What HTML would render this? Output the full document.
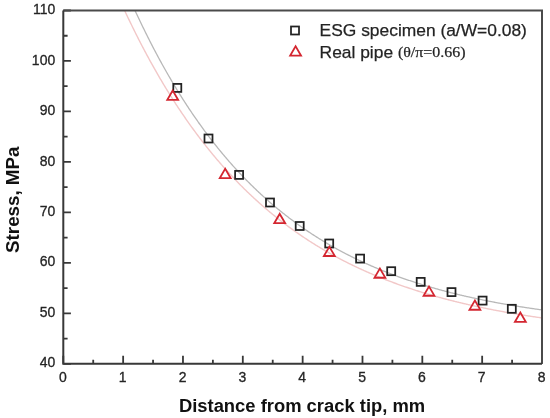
<!DOCTYPE html>
<html><head><meta charset="utf-8"><style>
html,body{margin:0;padding:0;background:#fff;}
svg{display:block;}
text{font-family:"Liberation Sans",Arial,sans-serif;}
</style></head><body>
<svg width="550" height="418" viewBox="0 0 550 418" fill="#222">
<defs><clipPath id="c"><rect x="63.3" y="10.5" width="478.7" height="353.3"/></clipPath></defs>
<g clip-path="url(#c)" fill="none" stroke-width="1.1">
<path d="M117.15,-30.82 L117.86,-29.08 L118.57,-27.36 L119.28,-25.64 L119.99,-23.93 L120.70,-22.22 L121.41,-20.53 L122.12,-18.84 L122.83,-17.17 L123.54,-15.50 L124.25,-13.84 L124.96,-12.18 L125.66,-10.54 L126.37,-8.90 L127.08,-7.27 L127.79,-5.65 L128.50,-4.03 L129.21,-2.43 L129.92,-0.83 L130.63,0.76 L131.34,2.35 L132.05,3.92 L132.76,5.49 L133.47,7.05 L134.18,8.61 L134.89,10.15 L135.59,11.69 L136.30,13.22 L137.01,14.75 L137.72,16.26 L138.43,17.77 L139.14,19.27 L139.85,20.77 L140.56,22.25 L141.27,23.73 L141.98,25.21 L142.69,26.67 L143.40,28.13 L144.11,29.58 L144.81,31.03 L145.52,32.47 L146.23,33.90 L146.94,35.32 L147.65,36.74 L148.36,38.15 L149.07,39.55 L149.78,40.95 L150.49,42.34 L151.20,43.72 L151.91,45.10 L152.62,46.47 L153.33,47.84 L154.04,49.19 L154.74,50.54 L155.45,51.89 L156.16,53.22 L156.87,54.56 L157.58,55.88 L158.29,57.20 L159.00,58.51 L159.71,59.82 L160.42,61.12 L161.13,62.41 L161.84,63.70 L162.55,64.98 L163.26,66.25 L163.96,67.52 L164.67,68.78 L165.38,70.04 L166.09,71.29 L166.80,72.53 L167.51,73.77 L168.22,75.01 L168.93,76.23 L169.64,77.45 L170.35,78.67 L171.06,79.88 L171.77,81.08 L172.48,82.28 L173.19,83.47 L173.89,84.65 L174.60,85.83 L175.31,87.01 L176.02,88.18 L176.73,89.34 L177.44,90.50 L178.15,91.65 L178.86,92.80 L179.57,93.94 L180.28,95.07 L180.99,96.20 L181.70,97.33 L182.41,98.45 L183.11,99.56 L183.82,100.67 L184.53,101.77 L185.24,102.87 L185.95,103.96 L186.66,105.05 L187.37,106.13 L188.08,107.21 L188.79,108.28 L189.50,109.34 L190.21,110.41 L190.92,111.46 L191.63,112.51 L192.34,113.56 L193.04,114.60 L193.75,115.64 L194.46,116.67 L195.17,117.69 L195.88,118.71 L196.59,119.73 L197.30,120.74 L198.01,121.75 L198.72,122.75 L199.43,123.75 L200.14,124.74 L200.85,125.73 L201.56,126.71 L202.26,127.69 L202.97,128.66 L203.68,129.63 L204.39,130.59 L205.10,131.55 L205.81,132.51 L206.52,133.45 L207.23,134.40 L207.94,135.34 L208.65,136.28 L209.36,137.21 L210.07,138.14 L210.78,139.06 L211.49,139.98 L212.19,140.89 L212.90,141.80 L213.61,142.71 L214.32,143.61 L215.03,144.50 L215.74,145.40 L216.45,146.28 L217.16,147.17 L217.87,148.05 L218.58,148.92 L219.29,149.79 L220.00,150.66 L220.71,151.52 L221.41,152.38 L222.12,153.23 L222.83,154.09 L223.54,154.93 L224.25,155.77 L224.96,156.61 L225.67,157.45 L226.38,158.28 L227.09,159.10 L227.80,159.92 L228.51,160.74 L229.22,161.56 L229.93,162.37 L230.64,163.17 L231.34,163.97 L232.05,164.77 L232.76,165.57 L233.47,166.36 L234.18,167.15 L234.89,167.93 L235.60,168.71 L236.31,169.48 L237.02,170.26 L237.73,171.02 L238.44,171.79 L239.15,172.55 L239.86,173.31 L240.56,174.06 L241.27,174.81 L241.98,175.56 L242.69,176.30 L243.40,177.04 L244.11,177.78 L244.82,178.51 L245.53,179.24 L246.24,179.96 L246.95,180.68 L247.66,181.40 L248.37,182.12 L249.08,182.83 L249.79,183.53 L250.49,184.24 L251.20,184.94 L251.91,185.64 L252.62,186.33 L253.33,187.02 L254.04,187.71 L254.75,188.40 L255.46,189.08 L256.17,189.75 L256.88,190.43 L257.59,191.10 L258.30,191.77 L259.01,192.43 L259.71,193.10 L260.42,193.75 L261.13,194.41 L261.84,195.06 L262.55,195.71 L263.26,196.36 L263.97,197.00 L264.68,197.64 L265.39,198.28 L266.10,198.91 L266.81,199.54 L267.52,200.17 L268.23,200.79 L268.94,201.41 L269.64,202.03 L270.35,202.65 L271.06,203.26 L271.77,203.87 L272.48,204.48 L273.19,205.08 L273.90,205.68 L274.61,206.28 L275.32,206.87 L276.03,207.47 L276.74,208.05 L277.45,208.64 L278.16,209.23 L278.86,209.81 L279.57,210.38 L280.28,210.96 L280.99,211.53 L281.70,212.10 L282.41,212.67 L283.12,213.23 L283.83,213.79 L284.54,214.35 L285.25,214.91 L285.96,215.46 L286.67,216.01 L287.38,216.56 L288.09,217.11 L288.79,217.65 L289.50,218.19 L290.21,218.73 L290.92,219.26 L291.63,219.80 L292.34,220.33 L293.05,220.85 L293.76,221.38 L294.47,221.90 L295.18,222.42 L295.89,222.94 L296.60,223.45 L297.31,223.97 L298.01,224.48 L298.72,224.98 L299.43,225.49 L300.14,225.99 L300.85,226.49 L301.56,226.99 L302.27,227.49 L302.98,227.98 L303.69,228.47 L304.40,228.96 L305.11,229.44 L305.82,229.93 L306.53,230.41 L307.24,230.89 L307.94,231.37 L308.65,231.84 L309.36,232.31 L310.07,232.78 L310.78,233.25 L311.49,233.71 L312.20,234.18 L312.91,234.64 L313.62,235.10 L314.33,235.55 L315.04,236.01 L315.75,236.46 L316.46,236.91 L317.16,237.36 L317.87,237.80 L318.58,238.25 L319.29,238.69 L320.00,239.13 L320.71,239.56 L321.42,240.00 L322.13,240.43 L322.84,240.86 L323.55,241.29 L324.26,241.72 L324.97,242.14 L325.68,242.57 L326.39,242.99 L327.09,243.40 L327.80,243.82 L328.51,244.24 L329.22,244.65 L329.93,245.06 L330.64,245.47 L331.35,245.87 L332.06,246.28 L332.77,246.68 L333.48,247.08 L334.19,247.48 L334.90,247.88 L335.61,248.27 L336.31,248.67 L337.02,249.06 L337.73,249.45 L338.44,249.83 L339.15,250.22 L339.86,250.60 L340.57,250.99 L341.28,251.37 L341.99,251.74 L342.70,252.12 L343.41,252.49 L344.12,252.87 L344.83,253.24 L345.54,253.61 L346.24,253.98 L346.95,254.34 L347.66,254.70 L348.37,255.07 L349.08,255.43 L349.79,255.79 L350.50,256.14 L351.21,256.50 L351.92,256.85 L352.63,257.20 L353.34,257.55 L354.05,257.90 L354.76,258.25 L355.46,258.59 L356.17,258.94 L356.88,259.28 L357.59,259.62 L358.30,259.96 L359.01,260.30 L359.72,260.63 L360.43,260.96 L361.14,261.30 L361.85,261.63 L362.56,261.96 L363.27,262.28 L363.98,262.61 L364.69,262.93 L365.39,263.26 L366.10,263.58 L366.81,263.90 L367.52,264.21 L368.23,264.53 L368.94,264.85 L369.65,265.16 L370.36,265.47 L371.07,265.78 L371.78,266.09 L372.49,266.40 L373.20,266.70 L373.91,267.01 L374.61,267.31 L375.32,267.61 L376.03,267.91 L376.74,268.21 L377.45,268.51 L378.16,268.80 L378.87,269.10 L379.58,269.39 L380.29,269.68 L381.00,269.97 L381.71,270.26 L382.42,270.55 L383.13,270.84 L383.84,271.12 L384.54,271.40 L385.25,271.68 L385.96,271.97 L386.67,272.24 L387.38,272.52 L388.09,272.80 L388.80,273.07 L389.51,273.35 L390.22,273.62 L390.93,273.89 L391.64,274.16 L392.35,274.43 L393.06,274.70 L393.76,274.96 L394.47,275.23 L395.18,275.49 L395.89,275.75 L396.60,276.01 L397.31,276.27 L398.02,276.53 L398.73,276.79 L399.44,277.05 L400.15,277.30 L400.86,277.55 L401.57,277.81 L402.28,278.06 L402.99,278.31 L403.69,278.56 L404.40,278.80 L405.11,279.05 L405.82,279.29 L406.53,279.54 L407.24,279.78 L407.95,280.02 L408.66,280.26 L409.37,280.50 L410.08,280.74 L410.79,280.98 L411.50,281.21 L412.21,281.45 L412.91,281.68 L413.62,281.91 L414.33,282.15 L415.04,282.38 L415.75,282.60 L416.46,282.83 L417.17,283.06 L417.88,283.29 L418.59,283.51 L419.30,283.73 L420.01,283.96 L420.72,284.18 L421.43,284.40 L422.14,284.62 L422.84,284.84 L423.55,285.05 L424.26,285.27 L424.97,285.48 L425.68,285.70 L426.39,285.91 L427.10,286.12 L427.81,286.33 L428.52,286.55 L429.23,286.75 L429.94,286.96 L430.65,287.17 L431.36,287.38 L432.06,287.58 L432.77,287.78 L433.48,287.99 L434.19,288.19 L434.90,288.39 L435.61,288.59 L436.32,288.79 L437.03,288.99 L437.74,289.19 L438.45,289.38 L439.16,289.58 L439.87,289.77 L440.58,289.97 L441.29,290.16 L441.99,290.35 L442.70,290.54 L443.41,290.73 L444.12,290.92 L444.83,291.11 L445.54,291.29 L446.25,291.48 L446.96,291.67 L447.67,291.85 L448.38,292.03 L449.09,292.22 L449.80,292.40 L450.51,292.58 L451.21,292.76 L451.92,292.94 L452.63,293.12 L453.34,293.29 L454.05,293.47 L454.76,293.65 L455.47,293.82 L456.18,293.99 L456.89,294.17 L457.60,294.34 L458.31,294.51 L459.02,294.68 L459.73,294.85 L460.44,295.02 L461.14,295.19 L461.85,295.36 L462.56,295.52 L463.27,295.69 L463.98,295.85 L464.69,296.02 L465.40,296.18 L466.11,296.35 L466.82,296.51 L467.53,296.67 L468.24,296.83 L468.95,296.99 L469.66,297.15 L470.36,297.31 L471.07,297.46 L471.78,297.62 L472.49,297.77 L473.20,297.93 L473.91,298.08 L474.62,298.24 L475.33,298.39 L476.04,298.54 L476.75,298.69 L477.46,298.84 L478.17,298.99 L478.88,299.14 L479.59,299.29 L480.29,299.44 L481.00,299.59 L481.71,299.73 L482.42,299.88 L483.13,300.02 L483.84,300.17 L484.55,300.31 L485.26,300.45 L485.97,300.60 L486.68,300.74 L487.39,300.88 L488.10,301.02 L488.81,301.16 L489.51,301.30 L490.22,301.43 L490.93,301.57 L491.64,301.71 L492.35,301.85 L493.06,301.98 L493.77,302.12 L494.48,302.25 L495.19,302.38 L495.90,302.52 L496.61,302.65 L497.32,302.78 L498.03,302.91 L498.74,303.04 L499.44,303.17 L500.15,303.30 L500.86,303.43 L501.57,303.56 L502.28,303.68 L502.99,303.81 L503.70,303.94 L504.41,304.06 L505.12,304.19 L505.83,304.31 L506.54,304.43 L507.25,304.56 L507.96,304.68 L508.66,304.80 L509.37,304.92 L510.08,305.04 L510.79,305.16 L511.50,305.28 L512.21,305.40 L512.92,305.52 L513.63,305.64 L514.34,305.75 L515.05,305.87 L515.76,305.99 L516.47,306.10 L517.18,306.22 L517.89,306.33 L518.59,306.45 L519.30,306.56 L520.01,306.67 L520.72,306.78 L521.43,306.90 L522.14,307.01 L522.85,307.12 L523.56,307.23 L524.27,307.34 L524.98,307.45 L525.69,307.56 L526.40,307.66 L527.11,307.77 L527.81,307.88 L528.52,307.98 L529.23,308.09 L529.94,308.20 L530.65,308.30 L531.36,308.40 L532.07,308.51 L532.78,308.61 L533.49,308.72 L534.20,308.82 L534.91,308.92 L535.62,309.02 L536.33,309.12 L537.04,309.22 L537.74,309.32 L538.45,309.42 L539.16,309.52 L539.87,309.62 L540.58,309.72 L541.29,309.81 L542.00,309.91" stroke="#b8b8b8" stroke-width="1.3"/>
<path d="M117.15,-6.00 L117.86,-4.40 L118.57,-2.81 L119.28,-1.23 L119.99,0.34 L120.70,1.91 L121.41,3.47 L122.12,5.02 L122.83,6.57 L123.54,8.10 L124.25,9.64 L124.96,11.16 L125.66,12.68 L126.37,14.19 L127.08,15.69 L127.79,17.19 L128.50,18.68 L129.21,20.16 L129.92,21.63 L130.63,23.10 L131.34,24.56 L132.05,26.02 L132.76,27.47 L133.47,28.91 L134.18,30.34 L134.89,31.77 L135.59,33.19 L136.30,34.61 L137.01,36.02 L137.72,37.42 L138.43,38.82 L139.14,40.21 L139.85,41.59 L140.56,42.97 L141.27,44.34 L141.98,45.70 L142.69,47.06 L143.40,48.41 L144.11,49.75 L144.81,51.09 L145.52,52.42 L146.23,53.75 L146.94,55.07 L147.65,56.39 L148.36,57.69 L149.07,59.00 L149.78,60.29 L150.49,61.58 L151.20,62.87 L151.91,64.14 L152.62,65.42 L153.33,66.68 L154.04,67.94 L154.74,69.20 L155.45,70.45 L156.16,71.69 L156.87,72.93 L157.58,74.16 L158.29,75.39 L159.00,76.61 L159.71,77.82 L160.42,79.03 L161.13,80.23 L161.84,81.43 L162.55,82.62 L163.26,83.81 L163.96,84.99 L164.67,86.17 L165.38,87.34 L166.09,88.50 L166.80,89.66 L167.51,90.82 L168.22,91.97 L168.93,93.11 L169.64,94.25 L170.35,95.38 L171.06,96.51 L171.77,97.63 L172.48,98.75 L173.19,99.86 L173.89,100.97 L174.60,102.07 L175.31,103.17 L176.02,104.26 L176.73,105.35 L177.44,106.43 L178.15,107.51 L178.86,108.58 L179.57,109.65 L180.28,110.71 L180.99,111.76 L181.70,112.82 L182.41,113.86 L183.11,114.91 L183.82,115.94 L184.53,116.98 L185.24,118.01 L185.95,119.03 L186.66,120.05 L187.37,121.06 L188.08,122.07 L188.79,123.08 L189.50,124.08 L190.21,125.07 L190.92,126.06 L191.63,127.05 L192.34,128.03 L193.04,129.01 L193.75,129.98 L194.46,130.95 L195.17,131.91 L195.88,132.87 L196.59,133.82 L197.30,134.78 L198.01,135.72 L198.72,136.66 L199.43,137.60 L200.14,138.53 L200.85,139.46 L201.56,140.39 L202.26,141.31 L202.97,142.22 L203.68,143.13 L204.39,144.04 L205.10,144.94 L205.81,145.84 L206.52,146.74 L207.23,147.63 L207.94,148.51 L208.65,149.40 L209.36,150.28 L210.07,151.15 L210.78,152.02 L211.49,152.89 L212.19,153.75 L212.90,154.61 L213.61,155.46 L214.32,156.31 L215.03,157.16 L215.74,158.00 L216.45,158.84 L217.16,159.67 L217.87,160.50 L218.58,161.33 L219.29,162.15 L220.00,162.97 L220.71,163.79 L221.41,164.60 L222.12,165.41 L222.83,166.21 L223.54,167.01 L224.25,167.81 L224.96,168.60 L225.67,169.39 L226.38,170.18 L227.09,170.96 L227.80,171.74 L228.51,172.52 L229.22,173.29 L229.93,174.06 L230.64,174.82 L231.34,175.58 L232.05,176.34 L232.76,177.09 L233.47,177.84 L234.18,178.59 L234.89,179.33 L235.60,180.07 L236.31,180.81 L237.02,181.54 L237.73,182.27 L238.44,183.00 L239.15,183.72 L239.86,184.44 L240.56,185.16 L241.27,185.87 L241.98,186.58 L242.69,187.29 L243.40,187.99 L244.11,188.69 L244.82,189.39 L245.53,190.08 L246.24,190.77 L246.95,191.46 L247.66,192.14 L248.37,192.82 L249.08,193.50 L249.79,194.18 L250.49,194.85 L251.20,195.52 L251.91,196.18 L252.62,196.84 L253.33,197.50 L254.04,198.16 L254.75,198.81 L255.46,199.46 L256.17,200.11 L256.88,200.75 L257.59,201.39 L258.30,202.03 L259.01,202.67 L259.71,203.30 L260.42,203.93 L261.13,204.56 L261.84,205.18 L262.55,205.80 L263.26,206.42 L263.97,207.03 L264.68,207.64 L265.39,208.25 L266.10,208.86 L266.81,209.46 L267.52,210.06 L268.23,210.66 L268.94,211.26 L269.64,211.85 L270.35,212.44 L271.06,213.03 L271.77,213.61 L272.48,214.19 L273.19,214.77 L273.90,215.35 L274.61,215.92 L275.32,216.49 L276.03,217.06 L276.74,217.63 L277.45,218.19 L278.16,218.75 L278.86,219.31 L279.57,219.86 L280.28,220.42 L280.99,220.97 L281.70,221.52 L282.41,222.06 L283.12,222.60 L283.83,223.14 L284.54,223.68 L285.25,224.22 L285.96,224.75 L286.67,225.28 L287.38,225.81 L288.09,226.33 L288.79,226.85 L289.50,227.38 L290.21,227.89 L290.92,228.41 L291.63,228.92 L292.34,229.43 L293.05,229.94 L293.76,230.45 L294.47,230.95 L295.18,231.45 L295.89,231.95 L296.60,232.45 L297.31,232.94 L298.01,233.44 L298.72,233.93 L299.43,234.41 L300.14,234.90 L300.85,235.38 L301.56,235.86 L302.27,236.34 L302.98,236.82 L303.69,237.29 L304.40,237.77 L305.11,238.24 L305.82,238.70 L306.53,239.17 L307.24,239.63 L307.94,240.09 L308.65,240.55 L309.36,241.01 L310.07,241.47 L310.78,241.92 L311.49,242.37 L312.20,242.82 L312.91,243.27 L313.62,243.71 L314.33,244.15 L315.04,244.59 L315.75,245.03 L316.46,245.47 L317.16,245.90 L317.87,246.34 L318.58,246.77 L319.29,247.19 L320.00,247.62 L320.71,248.05 L321.42,248.47 L322.13,248.89 L322.84,249.31 L323.55,249.72 L324.26,250.14 L324.97,250.55 L325.68,250.96 L326.39,251.37 L327.09,251.78 L327.80,252.18 L328.51,252.59 L329.22,252.99 L329.93,253.39 L330.64,253.79 L331.35,254.18 L332.06,254.58 L332.77,254.97 L333.48,255.36 L334.19,255.75 L334.90,256.14 L335.61,256.52 L336.31,256.90 L337.02,257.29 L337.73,257.67 L338.44,258.04 L339.15,258.42 L339.86,258.79 L340.57,259.17 L341.28,259.54 L341.99,259.91 L342.70,260.28 L343.41,260.64 L344.12,261.01 L344.83,261.37 L345.54,261.73 L346.24,262.09 L346.95,262.45 L347.66,262.80 L348.37,263.16 L349.08,263.51 L349.79,263.86 L350.50,264.21 L351.21,264.56 L351.92,264.91 L352.63,265.25 L353.34,265.59 L354.05,265.93 L354.76,266.27 L355.46,266.61 L356.17,266.95 L356.88,267.28 L357.59,267.62 L358.30,267.95 L359.01,268.28 L359.72,268.61 L360.43,268.94 L361.14,269.26 L361.85,269.59 L362.56,269.91 L363.27,270.23 L363.98,270.55 L364.69,270.87 L365.39,271.19 L366.10,271.50 L366.81,271.82 L367.52,272.13 L368.23,272.44 L368.94,272.75 L369.65,273.06 L370.36,273.37 L371.07,273.67 L371.78,273.98 L372.49,274.28 L373.20,274.58 L373.91,274.88 L374.61,275.18 L375.32,275.48 L376.03,275.77 L376.74,276.07 L377.45,276.36 L378.16,276.65 L378.87,276.94 L379.58,277.23 L380.29,277.52 L381.00,277.81 L381.71,278.09 L382.42,278.37 L383.13,278.66 L383.84,278.94 L384.54,279.22 L385.25,279.50 L385.96,279.77 L386.67,280.05 L387.38,280.32 L388.09,280.60 L388.80,280.87 L389.51,281.14 L390.22,281.41 L390.93,281.68 L391.64,281.95 L392.35,282.21 L393.06,282.48 L393.76,282.74 L394.47,283.00 L395.18,283.26 L395.89,283.52 L396.60,283.78 L397.31,284.04 L398.02,284.30 L398.73,284.55 L399.44,284.80 L400.15,285.06 L400.86,285.31 L401.57,285.56 L402.28,285.81 L402.99,286.06 L403.69,286.30 L404.40,286.55 L405.11,286.79 L405.82,287.04 L406.53,287.28 L407.24,287.52 L407.95,287.76 L408.66,288.00 L409.37,288.24 L410.08,288.47 L410.79,288.71 L411.50,288.95 L412.21,289.18 L412.91,289.41 L413.62,289.64 L414.33,289.87 L415.04,290.10 L415.75,290.33 L416.46,290.56 L417.17,290.78 L417.88,291.01 L418.59,291.23 L419.30,291.46 L420.01,291.68 L420.72,291.90 L421.43,292.12 L422.14,292.34 L422.84,292.56 L423.55,292.77 L424.26,292.99 L424.97,293.20 L425.68,293.42 L426.39,293.63 L427.10,293.84 L427.81,294.05 L428.52,294.26 L429.23,294.47 L429.94,294.68 L430.65,294.89 L431.36,295.09 L432.06,295.30 L432.77,295.50 L433.48,295.71 L434.19,295.91 L434.90,296.11 L435.61,296.31 L436.32,296.51 L437.03,296.71 L437.74,296.91 L438.45,297.10 L439.16,297.30 L439.87,297.49 L440.58,297.69 L441.29,297.88 L441.99,298.07 L442.70,298.26 L443.41,298.46 L444.12,298.64 L444.83,298.83 L445.54,299.02 L446.25,299.21 L446.96,299.39 L447.67,299.58 L448.38,299.76 L449.09,299.95 L449.80,300.13 L450.51,300.31 L451.21,300.49 L451.92,300.67 L452.63,300.85 L453.34,301.03 L454.05,301.21 L454.76,301.39 L455.47,301.56 L456.18,301.74 L456.89,301.91 L457.60,302.09 L458.31,302.26 L459.02,302.43 L459.73,302.60 L460.44,302.77 L461.14,302.94 L461.85,303.11 L462.56,303.28 L463.27,303.45 L463.98,303.61 L464.69,303.78 L465.40,303.94 L466.11,304.11 L466.82,304.27 L467.53,304.43 L468.24,304.60 L468.95,304.76 L469.66,304.92 L470.36,305.08 L471.07,305.24 L471.78,305.40 L472.49,305.55 L473.20,305.71 L473.91,305.87 L474.62,306.02 L475.33,306.18 L476.04,306.33 L476.75,306.48 L477.46,306.64 L478.17,306.79 L478.88,306.94 L479.59,307.09 L480.29,307.24 L481.00,307.39 L481.71,307.54 L482.42,307.68 L483.13,307.83 L483.84,307.98 L484.55,308.12 L485.26,308.27 L485.97,308.41 L486.68,308.56 L487.39,308.70 L488.10,308.84 L488.81,308.98 L489.51,309.12 L490.22,309.26 L490.93,309.40 L491.64,309.54 L492.35,309.68 L493.06,309.82 L493.77,309.96 L494.48,310.09 L495.19,310.23 L495.90,310.36 L496.61,310.50 L497.32,310.63 L498.03,310.77 L498.74,310.90 L499.44,311.03 L500.15,311.16 L500.86,311.29 L501.57,311.42 L502.28,311.55 L502.99,311.68 L503.70,311.81 L504.41,311.94 L505.12,312.07 L505.83,312.19 L506.54,312.32 L507.25,312.45 L507.96,312.57 L508.66,312.69 L509.37,312.82 L510.08,312.94 L510.79,313.06 L511.50,313.19 L512.21,313.31 L512.92,313.43 L513.63,313.55 L514.34,313.67 L515.05,313.79 L515.76,313.91 L516.47,314.03 L517.18,314.14 L517.89,314.26 L518.59,314.38 L519.30,314.49 L520.01,314.61 L520.72,314.72 L521.43,314.84 L522.14,314.95 L522.85,315.07 L523.56,315.18 L524.27,315.29 L524.98,315.40 L525.69,315.51 L526.40,315.62 L527.11,315.74 L527.81,315.85 L528.52,315.95 L529.23,316.06 L529.94,316.17 L530.65,316.28 L531.36,316.39 L532.07,316.49 L532.78,316.60 L533.49,316.71 L534.20,316.81 L534.91,316.92 L535.62,317.02 L536.33,317.12 L537.04,317.23 L537.74,317.33 L538.45,317.43 L539.16,317.53 L539.87,317.64 L540.58,317.74 L541.29,317.84 L542.00,317.94" stroke="#f2c8c8" stroke-width="1.4"/>
</g>
<g fill="none" stroke="#222" stroke-width="1.75">
<rect x="173.30" y="83.90" width="8.0" height="8.0"/><rect x="204.50" y="134.50" width="8.0" height="8.0"/><rect x="235.10" y="170.90" width="8.0" height="8.0"/><rect x="266.00" y="198.50" width="8.0" height="8.0"/><rect x="295.70" y="222.00" width="8.0" height="8.0"/><rect x="325.20" y="239.50" width="8.0" height="8.0"/><rect x="356.10" y="254.60" width="8.0" height="8.0"/><rect x="387.20" y="267.20" width="8.0" height="8.0"/><rect x="416.70" y="277.90" width="8.0" height="8.0"/><rect x="447.50" y="288.10" width="8.0" height="8.0"/><rect x="478.60" y="296.60" width="8.0" height="8.0"/><rect x="507.80" y="304.80" width="8.0" height="8.0"/>
<rect x="291.00" y="26.50" width="8.0" height="8.0"/>
</g>
<g fill="#d42630" fill-rule="evenodd">
<path d="M172.70,88.75 L179.70,100.75 L165.70,100.75 Z M168.83,98.95 L176.57,98.95 L172.70,92.32 Z"/><path d="M225.20,167.00 L232.20,179.00 L218.20,179.00 Z M221.33,177.20 L229.07,177.20 L225.20,170.57 Z"/><path d="M279.70,212.10 L286.70,224.10 L272.70,224.10 Z M275.83,222.30 L283.57,222.30 L279.70,215.67 Z"/><path d="M329.35,244.90 L336.35,256.90 L322.35,256.90 Z M325.48,255.10 L333.22,255.10 L329.35,248.47 Z"/><path d="M379.90,266.65 L386.90,278.65 L372.90,278.65 Z M376.03,276.85 L383.77,276.85 L379.90,270.22 Z"/><path d="M429.00,284.65 L436.00,296.65 L422.00,296.65 Z M425.13,294.85 L432.87,294.85 L429.00,288.22 Z"/><path d="M474.90,298.65 L481.90,310.65 L467.90,310.65 Z M471.03,308.85 L478.77,308.85 L474.90,302.22 Z"/><path d="M520.35,310.70 L527.35,322.70 L513.35,322.70 Z M516.48,320.90 L524.22,320.90 L520.35,314.27 Z"/>
<path d="M295.60,44.55 L302.60,56.55 L288.60,56.55 Z M291.73,54.75 L299.47,54.75 L295.60,48.12 Z"/>
</g>
<path d="M63.30,363.8 V355.8 M93.22,363.8 V359.8 M123.14,363.8 V355.8 M153.06,363.8 V359.8 M182.97,363.8 V355.8 M212.89,363.8 V359.8 M242.81,363.8 V355.8 M272.73,363.8 V359.8 M302.65,363.8 V355.8 M332.57,363.8 V359.8 M362.49,363.8 V355.8 M392.41,363.8 V359.8 M422.32,363.8 V355.8 M452.24,363.8 V359.8 M482.16,363.8 V355.8 M512.08,363.8 V359.8 M542.00,363.8 V355.8 M63.3,363.80 H70.89999999999999 M63.3,338.56 H67.6 M63.3,313.33 H70.89999999999999 M63.3,288.09 H67.6 M63.3,262.86 H70.89999999999999 M63.3,237.62 H67.6 M63.3,212.39 H70.89999999999999 M63.3,187.15 H67.6 M63.3,161.91 H70.89999999999999 M63.3,136.68 H67.6 M63.3,111.44 H70.89999999999999 M63.3,86.21 H67.6 M63.3,60.97 H70.89999999999999 M63.3,35.74 H67.6 M63.3,10.50 H70.89999999999999" stroke="#383838" stroke-width="1.8" fill="none"/>
<path d="M63.3,10.5 H542.0 V363.8" fill="none" stroke="#4a4a4a" stroke-width="2" stroke-linejoin="miter"/>
<path d="M63.3,10.5 V363.8 H542.0" fill="none" stroke="#383838" stroke-width="2" stroke-linejoin="miter"/>
<g font-size="14" stroke="#2a2a2a" stroke-width="0.3"><text transform="translate(55.2,367.40) scale(1,1.1)" text-anchor="end">40</text><text transform="translate(55.2,316.93) scale(1,1.1)" text-anchor="end">50</text><text transform="translate(55.2,266.46) scale(1,1.1)" text-anchor="end">60</text><text transform="translate(55.2,215.99) scale(1,1.1)" text-anchor="end">70</text><text transform="translate(55.2,165.51) scale(1,1.1)" text-anchor="end">80</text><text transform="translate(55.2,115.04) scale(1,1.1)" text-anchor="end">90</text><text transform="translate(55.2,64.57) scale(1,1.1)" text-anchor="end">100</text><text transform="translate(55.2,14.10) scale(1,1.1)" text-anchor="end">110</text><text transform="translate(62.85,382) scale(1,1.1)" text-anchor="middle">0</text><text transform="translate(122.69,382) scale(1,1.1)" text-anchor="middle">1</text><text transform="translate(182.53,382) scale(1,1.1)" text-anchor="middle">2</text><text transform="translate(242.36,382) scale(1,1.1)" text-anchor="middle">3</text><text transform="translate(302.20,382) scale(1,1.1)" text-anchor="middle">4</text><text transform="translate(362.04,382) scale(1,1.1)" text-anchor="middle">5</text><text transform="translate(421.88,382) scale(1,1.1)" text-anchor="middle">6</text><text transform="translate(481.71,382) scale(1,1.1)" text-anchor="middle">7</text><text transform="translate(541.55,382) scale(1,1.1)" text-anchor="middle">8</text></g>
<text x="178.9" y="411.7" font-size="18" font-weight="bold" textLength="246.3" lengthAdjust="spacingAndGlyphs" fill="#111">Distance from crack tip, mm</text>
<text transform="translate(19.0,252.9) rotate(-90)" x="0" y="0" font-size="18" font-weight="bold" textLength="106.3" lengthAdjust="spacingAndGlyphs" fill="#111">Stress, MPa</text>
<g stroke="#2a2a2a" stroke-width="0.25"><text x="319.6" y="36" font-size="17.4">ESG specimen (a/W=0.08)</text>
<text x="319.6" y="57.5" font-size="17.4">Real pipe</text>
<text x="397.9" y="57.3" style="font-family:'Liberation Serif',serif;font-size:15.3px" textLength="67.6" lengthAdjust="spacingAndGlyphs">(θ/π=0.66)</text></g>
</svg>
</body></html>
